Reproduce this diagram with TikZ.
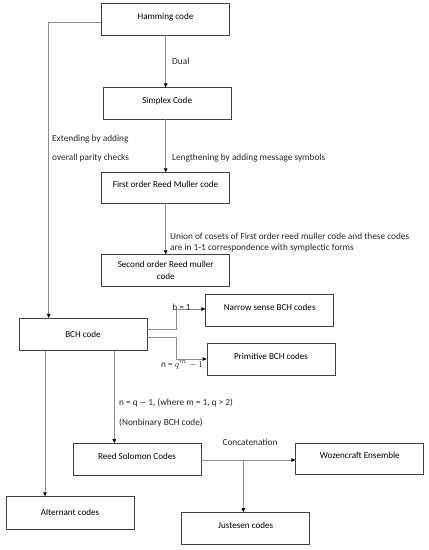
\documentclass[tikz,border=0pt]{standalone}
\usepackage{fontspec}
\setmainfont{Carlito}
\usetikzlibrary{arrows.meta}
\begin{document}
\begin{tikzpicture}[x=1pt,y=-1pt,
  box/.style={draw=black!75, line width=0.7pt, minimum width=128pt, minimum height=31.5pt, inner sep=0pt, font=\fontsize{9.1}{10}\selectfont, text height=6.5pt, text depth=6.5pt, align=center},
  box2/.style={draw=black!75, line width=0.7pt, minimum width=128pt, minimum height=32.4pt, inner sep=0pt, font=\fontsize{9.1}{12}\selectfont, align=center},
  conn/.style={draw=black!45, line width=0.7pt},
  arr/.style={conn, -{Triangle[length=4pt,width=3.5pt,fill=black,color=black]}},
  lab/.style={font=\fontsize{9.3}{10}\selectfont, inner sep=0pt, text=black!85}]
\useasboundingbox (0,0) rectangle (429,550);
\node[box] (ham) at (165.5,19.5) {Hamming code};
\node[box] (sim) at (167.2,103.2) {Simplex Code};
\node[box] (fo) at (165.5,187.8) {First order Reed Muller code};
\node[box2] (so) at (165.7,270.5) {Second order Reed muller\\code};
\node[box2] (bch) at (83,334.5) {BCH code};
\node[box] (ns) at (269.7,310.2) {Narrow sense BCH codes};
\node[box] (pr) at (271,359.2) {Primitive BCH codes};
\node[box] (rs) at (137,459.2) {Reed Solomon Codes};
\node[box] (wz) at (359.8,458.8) {Wozencraft Ensemble};
\node[box2] (al) at (70,512.8) {Alternant codes};
\node[box] (ju) at (245.7,528.2) {Justesen codes};

\coordinate (hl) at (48.7,22.7);
\draw[arr] (ham.west |- hl) -- (hl) -- (hl |- bch.north);
\draw[arr] (165.7,35) -- (165.7,87.4);
\draw[arr] (165.7,119) -- (165.7,172.3);
\draw[arr] (165.7,203.3) -- (165.7,254.3);

\coordinate (b1) at (176,309);
\coordinate (b2) at (176,359);
\draw[arr] (bch.east |- 0,329.3) -| (b1) -- (ns.west |- b1);
\draw[arr] (bch.east |- 0,337.3) -| (b2) -- (pr.west |- b2);
\draw[arr] (45,350.7) -- (al.north -| 45,0);
\draw[arr] (114.3,350.7) -- (rs.north -| 114.3,0);
\coordinate (jt) at (243.3,460);
\draw[arr] (rs.east |- jt) -- (wz.west |- jt);
\draw[arr] (jt) -- (ju.north -| jt);

\node[lab, anchor=west] (l1) at (172,61) {Dual};
\node[lab, anchor=west] (l2) at (52,139) {Extending by adding};
\node[lab, anchor=west] (l3) at (52,158) {overall parity checks};
\node[lab, anchor=west] (l4) at (172,158) {Lengthening by adding message symbols};
\node[lab, anchor=west] (l5) at (170,236) {Union of cosets of First order reed muller code and these codes};
\node[lab, anchor=west] (l6) at (170,247.7) {are in 1-1 correspondence with symplectic forms};
\node[lab] (l7) at (181.5,307) {b = 1};
\node[lab] (l8) at (182,365) {n = $q^{m}-1$};
\node[lab, anchor=west] (l9) at (119,403.3) {n = q {\fontspec{DejaVu Sans}\fontsize{7.5}{10}\selectfont −} 1, (where m = 1, q > 2)};
\node[lab, anchor=west] (l10) at (119,422.7) {(Nonbinary BCH code)};
\node[lab] (l11) at (250,442.7) {Concatenation};
\end{tikzpicture}
\end{document}
